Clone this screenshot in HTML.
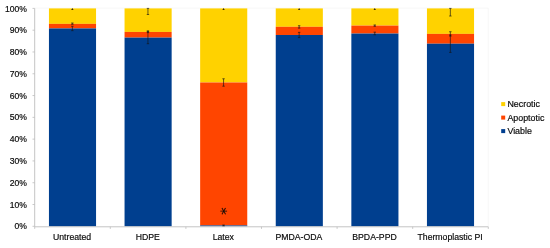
<!DOCTYPE html><html><head><meta charset="utf-8"><title>chart</title><style>html,body{margin:0;padding:0;background:#fff}svg{display:block}text{font-family:"Liberation Sans",Arial,sans-serif;fill:#0a0a0a;stroke:#0a0a0a;stroke-width:0.18px}</style></head><body>
<svg width="550" height="248" viewBox="0 0 550 248">
<rect width="550" height="248" fill="#fff"/>
<path d="M34.7 8.1H488.29999999999995V226.3" fill="none" stroke="#f5f5f5" stroke-width="0.8"/>
<rect x="48.95" y="8.40" width="47.1" height="15.47" fill="#FFD200"/>
<rect x="48.95" y="23.87" width="47.1" height="4.58" fill="#FF4500"/>
<rect x="48.95" y="28.45" width="47.1" height="197.85" fill="#003F8F"/>
<rect x="124.55" y="8.40" width="47.1" height="23.53" fill="#FFD200"/>
<rect x="124.55" y="31.93" width="47.1" height="5.67" fill="#FF4500"/>
<rect x="124.55" y="37.60" width="47.1" height="188.70" fill="#003F8F"/>
<rect x="200.15" y="8.40" width="47.1" height="74.09" fill="#FFD200"/>
<rect x="200.15" y="82.49" width="47.1" height="142.94" fill="#FF4500"/>
<rect x="200.15" y="225.43" width="47.1" height="0.87" fill="#003F8F"/>
<rect x="275.75" y="8.40" width="47.1" height="18.41" fill="#FFD200"/>
<rect x="275.75" y="26.81" width="47.1" height="8.17" fill="#FF4500"/>
<rect x="275.75" y="34.98" width="47.1" height="191.32" fill="#003F8F"/>
<rect x="351.35" y="8.40" width="47.1" height="17.21" fill="#FFD200"/>
<rect x="351.35" y="25.61" width="47.1" height="7.95" fill="#FF4500"/>
<rect x="351.35" y="33.57" width="47.1" height="192.73" fill="#003F8F"/>
<rect x="426.95" y="8.40" width="47.1" height="25.49" fill="#FFD200"/>
<rect x="426.95" y="33.89" width="47.1" height="9.81" fill="#FF4500"/>
<rect x="426.95" y="43.70" width="47.1" height="182.60" fill="#003F8F"/>
<path d="M34.7 8.4V226.8H488.29999999999995" fill="none" stroke="#bdbdbd" stroke-width="0.9"/>
<path d="M32.5 226.30H34.7" stroke="#bdbdbd" stroke-width="0.8"/>
<text x="27" y="229.40" font-size="8.6" text-anchor="end">0%</text>
<path d="M32.5 204.51H34.7" stroke="#bdbdbd" stroke-width="0.8"/>
<text x="27" y="207.61" font-size="8.6" text-anchor="end">10%</text>
<path d="M32.5 182.72H34.7" stroke="#bdbdbd" stroke-width="0.8"/>
<text x="27" y="185.82" font-size="8.6" text-anchor="end">20%</text>
<path d="M32.5 160.93H34.7" stroke="#bdbdbd" stroke-width="0.8"/>
<text x="27" y="164.03" font-size="8.6" text-anchor="end">30%</text>
<path d="M32.5 139.14H34.7" stroke="#bdbdbd" stroke-width="0.8"/>
<text x="27" y="142.24" font-size="8.6" text-anchor="end">40%</text>
<path d="M32.5 117.35H34.7" stroke="#bdbdbd" stroke-width="0.8"/>
<text x="27" y="120.45" font-size="8.6" text-anchor="end">50%</text>
<path d="M32.5 95.56H34.7" stroke="#bdbdbd" stroke-width="0.8"/>
<text x="27" y="98.66" font-size="8.6" text-anchor="end">60%</text>
<path d="M32.5 73.77H34.7" stroke="#bdbdbd" stroke-width="0.8"/>
<text x="27" y="76.87" font-size="8.6" text-anchor="end">70%</text>
<path d="M32.5 51.98H34.7" stroke="#bdbdbd" stroke-width="0.8"/>
<text x="27" y="55.08" font-size="8.6" text-anchor="end">80%</text>
<path d="M32.5 30.19H34.7" stroke="#bdbdbd" stroke-width="0.8"/>
<text x="27" y="33.29" font-size="8.6" text-anchor="end">90%</text>
<path d="M32.5 8.40H34.7" stroke="#bdbdbd" stroke-width="0.8"/>
<text x="27" y="11.50" font-size="8.6" text-anchor="end">100%</text>
<path d="M34.70 226.8V228.9" stroke="#bdbdbd" stroke-width="0.8"/>
<path d="M110.30 226.8V228.9" stroke="#bdbdbd" stroke-width="0.8"/>
<path d="M185.90 226.8V228.9" stroke="#bdbdbd" stroke-width="0.8"/>
<path d="M261.50 226.8V228.9" stroke="#bdbdbd" stroke-width="0.8"/>
<path d="M337.10 226.8V228.9" stroke="#bdbdbd" stroke-width="0.8"/>
<path d="M412.70 226.8V228.9" stroke="#bdbdbd" stroke-width="0.8"/>
<path d="M488.30 226.8V228.9" stroke="#bdbdbd" stroke-width="0.8"/>
<text x="72.10" y="239.6" font-size="8.7" text-anchor="middle">Untreated</text>
<text x="147.70" y="239.6" font-size="8.7" text-anchor="middle">HDPE</text>
<text x="223.30" y="239.6" font-size="8.7" text-anchor="middle">Latex</text>
<text x="298.90" y="239.6" font-size="8.7" text-anchor="middle">PMDA-ODA</text>
<text x="374.50" y="239.6" font-size="8.7" text-anchor="middle">BPDA-PPD</text>
<text x="450.10" y="239.6" font-size="8.7" text-anchor="middle">Thermoplastic PI</text>
<path d="M71.15 10.00L72.35 8.00L73.55 10.00Z" fill="#3a2a10"/>
<path d="M72.35 23.00V24.31M71.15 23.00H73.55M71.15 24.31H73.55" stroke="#151515" stroke-width="0.65" fill="none"/>
<path d="M72.35 26.27V30.63M71.15 26.27H73.55M71.15 30.63H73.55" stroke="#151515" stroke-width="0.65" fill="none"/>
<path d="M147.95 8.40V14.50M146.75 8.40H149.15M146.75 14.50H149.15" stroke="#151515" stroke-width="0.65" fill="none"/>
<path d="M147.95 30.84V32.59M146.75 30.84H149.15M146.75 32.59H149.15" stroke="#151515" stroke-width="0.65" fill="none"/>
<path d="M147.95 31.50V43.70M146.75 31.50H149.15M146.75 43.70H149.15" stroke="#151515" stroke-width="0.65" fill="none"/>
<path d="M222.35 10.00L223.55 8.00L224.75 10.00Z" fill="#3a2a10"/>
<path d="M223.55 78.78V86.19M222.35 78.78H224.75M222.35 86.19H224.75" stroke="#151515" stroke-width="0.65" fill="none"/>
<path d="M223.55 224.99V225.86M222.35 224.99H224.75M222.35 225.86H224.75" stroke="#151515" stroke-width="0.65" fill="none"/>
<path d="M297.95 10.00L299.15 8.00L300.35 10.00Z" fill="#3a2a10"/>
<path d="M299.15 25.72V28.12M297.95 25.72H300.35M297.95 28.12H300.35" stroke="#151515" stroke-width="0.65" fill="none"/>
<path d="M299.15 32.37V37.60M297.95 32.37H300.35M297.95 37.60H300.35" stroke="#151515" stroke-width="0.65" fill="none"/>
<path d="M373.55 10.00L374.75 8.00L375.95 10.00Z" fill="#3a2a10"/>
<path d="M374.75 24.96V26.27M373.55 24.96H375.95M373.55 26.27H375.95" stroke="#151515" stroke-width="0.65" fill="none"/>
<path d="M374.75 32.15V34.77M373.55 32.15H375.95M373.55 34.77H375.95" stroke="#151515" stroke-width="0.65" fill="none"/>
<path d="M450.35 8.40V16.03M449.15 8.40H451.55M449.15 16.03H451.55" stroke="#151515" stroke-width="0.65" fill="none"/>
<path d="M450.35 31.72V36.07M449.15 31.72H451.55M449.15 36.07H451.55" stroke="#151515" stroke-width="0.65" fill="none"/>
<path d="M450.35 34.98V52.42M449.15 34.98H451.55M449.15 52.42H451.55" stroke="#151515" stroke-width="0.65" fill="none"/>
<text transform="translate(223.6 211.0) rotate(90)" x="0" y="6.50" font-size="14.5" text-anchor="middle" fill="#111" style="font-family:'DejaVu Sans',sans-serif">*</text>
<rect x="501.2" y="102.10" width="4" height="4" fill="#FFD200"/>
<text x="507.4" y="107.20" font-size="8.9">Necrotic</text>
<rect x="501.2" y="115.60" width="4" height="4" fill="#FF4500"/>
<text x="507.4" y="120.70" font-size="8.9">Apoptotic</text>
<rect x="501.2" y="129.10" width="4" height="4" fill="#003F8F"/>
<text x="507.4" y="134.20" font-size="8.9">Viable</text>
</svg></body></html>
